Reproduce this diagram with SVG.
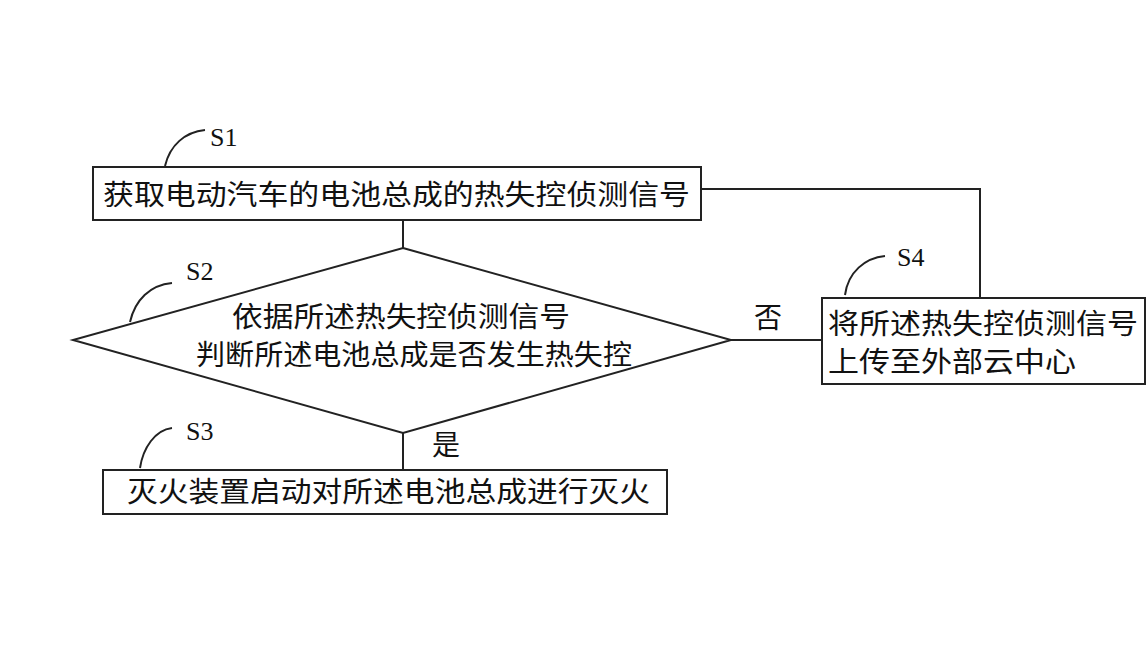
<svg xmlns="http://www.w3.org/2000/svg" width="1148" height="663" viewBox="0 0 1148 663">
<style>
.b{fill:#fff;stroke:#222;stroke-width:2}
.l{fill:none;stroke:#222;stroke-width:2}
.t{font-family:"Noto Sans CJK SC","Liberation Serif",serif;font-size:28px;fill:#111}
.s{font-family:"Liberation Serif",serif;font-size:26px;fill:#111}
</style>
<rect width="1148" height="663" fill="#fff"/>
<g id="connectors">
<path class="l" d="M403 220V248M403 433V470M731 340H822M701 189H980V298"/>
<path class="l" d="M165 166C170 145 185 132 205 130M130 322C135 300 150 285 172 283M140 468C143 448 155 430 172 428M845 295C848 272 865 258 885 256"/>
<text class="t" x="754" y="328">否</text>
<text class="t" x="432" y="455">是</text>
</g>
<g id="S1"><text class="s" x="210" y="146">S1</text><rect class="b" x="93" y="167" width="608" height="53"/><text class="t" x="103" y="205" textLength="587" lengthAdjust="spacingAndGlyphs">获取电动汽车的电池总成的热失控侦测信号</text></g>
<g id="S2"><text class="s" x="186" y="280">S2</text><polygon class="b" points="403,248 731,340 403,433 73,340"/><text class="t" x="232" y="327" textLength="338" lengthAdjust="spacingAndGlyphs">依据所述热失控侦测信号</text><text class="t" x="196" y="365" textLength="436" lengthAdjust="spacingAndGlyphs">判断所述电池总成是否发生热失控</text></g>
<g id="S3"><text class="s" x="186" y="440">S3</text><rect class="b" x="103" y="470" width="564" height="44"/><text class="t" x="127" y="502" textLength="523" lengthAdjust="spacingAndGlyphs">灭火装置启动对所述电池总成进行灭火</text></g>
<g id="S4"><text class="s" x="897" y="266">S4</text><rect class="b" x="822" y="298" width="323" height="86"/><text class="t" x="828" y="334" textLength="310" lengthAdjust="spacingAndGlyphs">将所述热失控侦测信号</text><text class="t" x="828" y="372" textLength="248" lengthAdjust="spacingAndGlyphs">上传至外部云中心</text></g>
</svg>
